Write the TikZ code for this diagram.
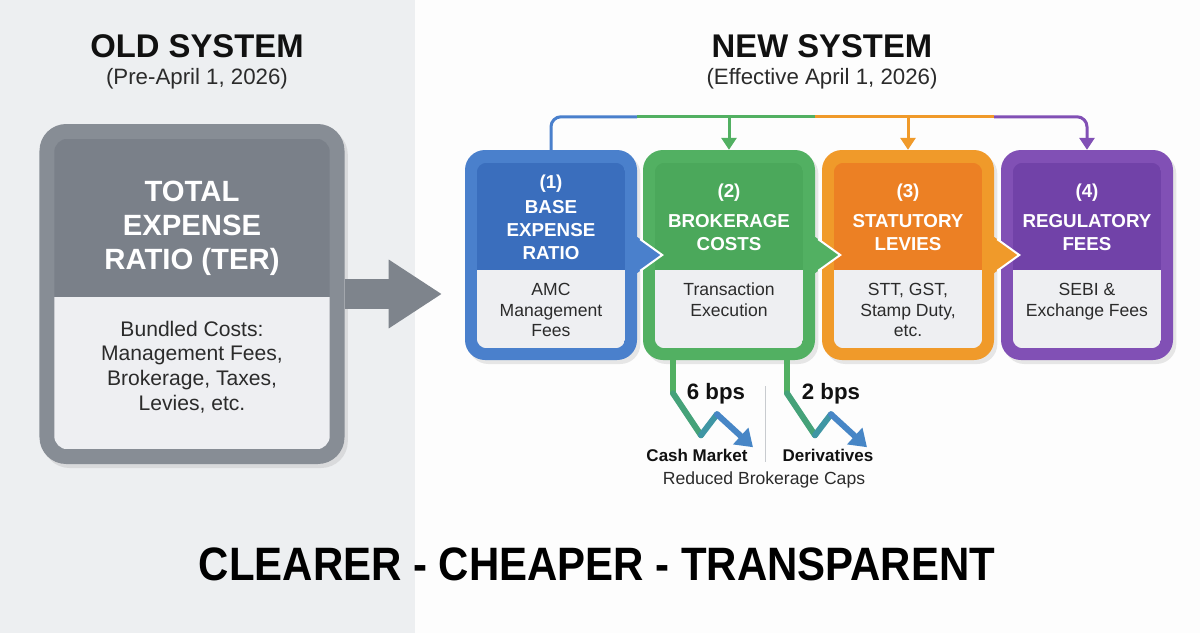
\documentclass[tikz,border=0pt]{standalone}
\usepackage{fontspec}
\setmainfont{Liberation Sans}
\usepackage{xcolor}
\usepackage{graphicx}
\usepackage{tikz}
\usetikzlibrary{arrows.meta, positioning, calc, shadows}
\definecolor{oldbg}{HTML}{EDEFF1}
\definecolor{newbg}{HTML}{FDFDFD}
\definecolor{terframe}{HTML}{878D95}
\definecolor{tertop}{HTML}{7A8089}
\definecolor{terarrow}{HTML}{7E848C}
\definecolor{panelgray}{HTML}{EEEFF2}
\definecolor{inkblack}{HTML}{111111}
\definecolor{inkdark}{HTML}{2B2B2B}
\definecolor{baseblue}{HTML}{4A80CC}
\definecolor{basebluetop}{HTML}{3A6EBD}
\definecolor{brokgreen}{HTML}{52B062}
\definecolor{brokgreentop}{HTML}{4BA85B}
\definecolor{levyorange}{HTML}{F09A2A}
\definecolor{levyorangetop}{HTML}{EC8024}
\definecolor{regpurple}{HTML}{8150B5}
\definecolor{regpurpletop}{HTML}{7142A8}
\definecolor{zigmid}{HTML}{45A279}
\definecolor{zigteal}{HTML}{3F96A4}
\definecolor{capblue}{HTML}{4786C6}
\definecolor{rulegray}{HTML}{C8CBCF}

\tikzset{
  heading/.style={text=inkblack, font=\fontsize{28}{32}\selectfont\bfseries},
  subhead/.style={text=inkdark, font=\fontsize{19}{22}\selectfont},
  frame/.style={rounded corners=6mm, minimum width=51.6mm, minimum height=63mm, inner sep=0pt,
    drop shadow={shadow xshift=1mm, shadow yshift=-1.2mm, opacity=0.18}},
  tertitle/.style={text=white, font=\fontsize{25}{29}\selectfont\bfseries, align=center},
  terbody/.style={text=inkdark, font=\fontsize{18}{21}\selectfont, align=center},
  boxtitle/.style={text=white, font=\fontsize{16}{19.5}\selectfont\bfseries, align=center},
  boxtext/.style={text=inkdark, font=\fontsize{15}{17.5}\selectfont, align=center, inner sep=0pt, anchor=north},
  bigarrow/.style={draw=terarrow, line width=9mm, -{Triangle[length=16mm, width=19.5mm]}},
  link/.style={line width=0.9mm},
  droptip/.style={-{Triangle[length=3.6mm, width=4.5mm]}},
  zig/.style={line width=1.8mm, line cap=round, line join=round},
  bps/.style={text=inkblack, font=\fontsize{19}{22}\selectfont\bfseries},
  capname/.style={text=inkblack, font=\fontsize{14.5}{17}\selectfont\bfseries},
  capnote/.style={text=inkdark, font=\fontsize{15}{18}\selectfont},
  slogan/.style={text=black, font=\fontsize{40}{46}\selectfont\bfseries}
}

\begin{document}
\begin{tikzpicture}[x=0.3mm, y=-0.3mm]
\useasboundingbox (0,0) rectangle (1200,633);
% two halves
\fill[oldbg] (0,0) rectangle (415,633);
\fill[newbg] (415,0) rectangle (1200,633);

% headings
\node[heading] (oldhead) at (197,46) {OLD SYSTEM};
\node[subhead] (olddate) at (197,79) {(Pre-April 1, 2026)};
\node[heading] (newhead) at (822,46) {NEW SYSTEM};
\node[subhead] (newdate) at (822,79) {(Effective April 1, 2026)};

% old bundled TER box
\node[frame, fill=terframe, minimum width=91.5mm, minimum height=102mm, rounded corners=8mm] (ter) at (192,294) {};
\begin{scope}
  \clip[rounded corners=4mm] ($(ter.north west)+(15,15)$) rectangle ($(ter.south east)+(-15,-15)$);
  \fill[tertop] ($(ter.north west)+(15,15)$) rectangle ($(ter.east)+(-15,3)$);
  \fill[panelgray] ($(ter.west)+(15,3)$) rectangle ($(ter.south east)+(-15,-15)$);
\end{scope}
\node[tertitle] (tertext) at (192,228) {TOTAL\\EXPENSE\\RATIO (TER)};
\node[terbody] (terdesc) at (192,367) {Bundled Costs:\\Management Fees,\\Brokerage, Taxes,\\Levies, etc.};

\coordinate (newside) at (442,294);
\draw[bigarrow] (ter.east) -- (newside);

% new split boxes
\node[frame, fill=baseblue] (box1) at (551,255) {};
\node[frame, fill=brokgreen] (box2) at (729,255) {};
\node[frame, fill=levyorange] (box3) at (908,255) {};
\node[frame, fill=regpurple] (box4) at (1087,255) {};

\foreach \b/\c in {box1/basebluetop, box2/brokgreentop, box3/levyorangetop, box4/regpurpletop} {
  \begin{scope}
    \clip[rounded corners=3mm] ($(\b.north west)+(12,13)$) rectangle ($(\b.south east)+(-12,-12)$);
    \fill[\c] ($(\b.north west)+(12,13)$) rectangle ($(\b.east)+(-12,15)$);
    \fill[panelgray] ($(\b.west)+(12,15)$) rectangle ($(\b.south east)+(-12,-12)$);
  \end{scope}
}

% chevrons from box to box
\foreach \a/\c in {box1/baseblue, box2/brokgreen, box3/levyorange} {
  \fill[\c] ($(\a.east)+(-10,-18)$) -- ($(\a.east)+(0,-18)$) -- ($(\a.east)+(25,0)$)
    -- ($(\a.east)+(0,18)$) -- ($(\a.east)+(-10,18)$) -- cycle;
  \draw[white, line width=0.6mm] ($(\a.east)+(3,-15.8)$) -- ($(\a.east)+(25,0)$) -- ($(\a.east)+(3,15.8)$);
}

\node[boxtitle] (ttl1) at ($(box1)+(0,-38)$) {(1)\\[2pt]BASE\\EXPENSE\\RATIO};
\node[boxtitle] (ttl2) at ($(box2)+(0,-38)$) {(2)\\[6pt]BROKERAGE\\COSTS};
\node[boxtitle] (ttl3) at ($(box3)+(0,-38)$) {(3)\\[6pt]STATUTORY\\LEVIES};
\node[boxtitle] (ttl4) at ($(box4)+(0,-38)$) {(4)\\[6pt]REGULATORY\\FEES};

\node[boxtext] (dsc1) at ($(box1)+(0,28)$) {AMC\\Management\\Fees};
\node[boxtext] (dsc2) at ($(box2)+(0,28)$) {Transaction\\Execution};
\node[boxtext] (dsc3) at ($(box3)+(0,28)$) {STT, GST,\\Stamp Duty,\\etc.};
\node[boxtext] (dsc4) at ($(box4)+(0,28)$) {SEBI \&\\Exchange Fees};

% link bus over the boxes
\coordinate (bus) at ($(box1.north)+(0,-33)$);
\draw[link, baseblue, rounded corners=3mm] (box1.north) -- (bus) -- (bus -| box1.east);
\draw[link, brokgreen] (bus -| box1.east) -- (bus -| box2.east);
\draw[link, levyorange] (bus -| box2.east) -- (bus -| box3.east);
\draw[link, regpurple, droptip, rounded corners=3mm] (bus -| box3.east) -| (box4.north);
\draw[link, brokgreen, droptip] (bus -| box2.north) -- (box2.north);
\draw[link, levyorange, droptip] (bus -| box3.north) -- (box3.north);

% brokerage caps
\coordinate (cashtop) at ($(box2.south)+(-56,0)$);
\coordinate (derivtop) at ($(box2.south)+(58,0)$);
\foreach \s in {cashtop, derivtop} {
  \draw[zig, brokgreen] (\s) -- ++(0,33);
  \draw[zig, zigmid] ($(\s)+(0,33)$) -- ++(28,42);
  \draw[zig, zigteal] ($(\s)+(28,75)$) -- ++(16,-21);
  \draw[zig, capblue, -{Triangle[length=5mm, width=6.5mm]}] ($(\s)+(44,54)$) -- ++(36,33);
}
\node[bps] (six) at (716,394) {6 bps};
\node[bps] (two) at (831,394) {2 bps};
\draw[rulegray, line width=0.3mm] (765,386) -- (765,462);
\node[capname] (cash) at (697,455) {Cash Market};
\node[capname] (deriv) at (828,455) {Derivatives};
\node[capnote] (caps) at (764,480) {Reduced Brokerage Caps};

\node[slogan] (motto) at (597,564) {\scalebox{0.895}[1]{CLEARER - CHEAPER - TRANSPARENT}};
\end{tikzpicture}
\end{document}
